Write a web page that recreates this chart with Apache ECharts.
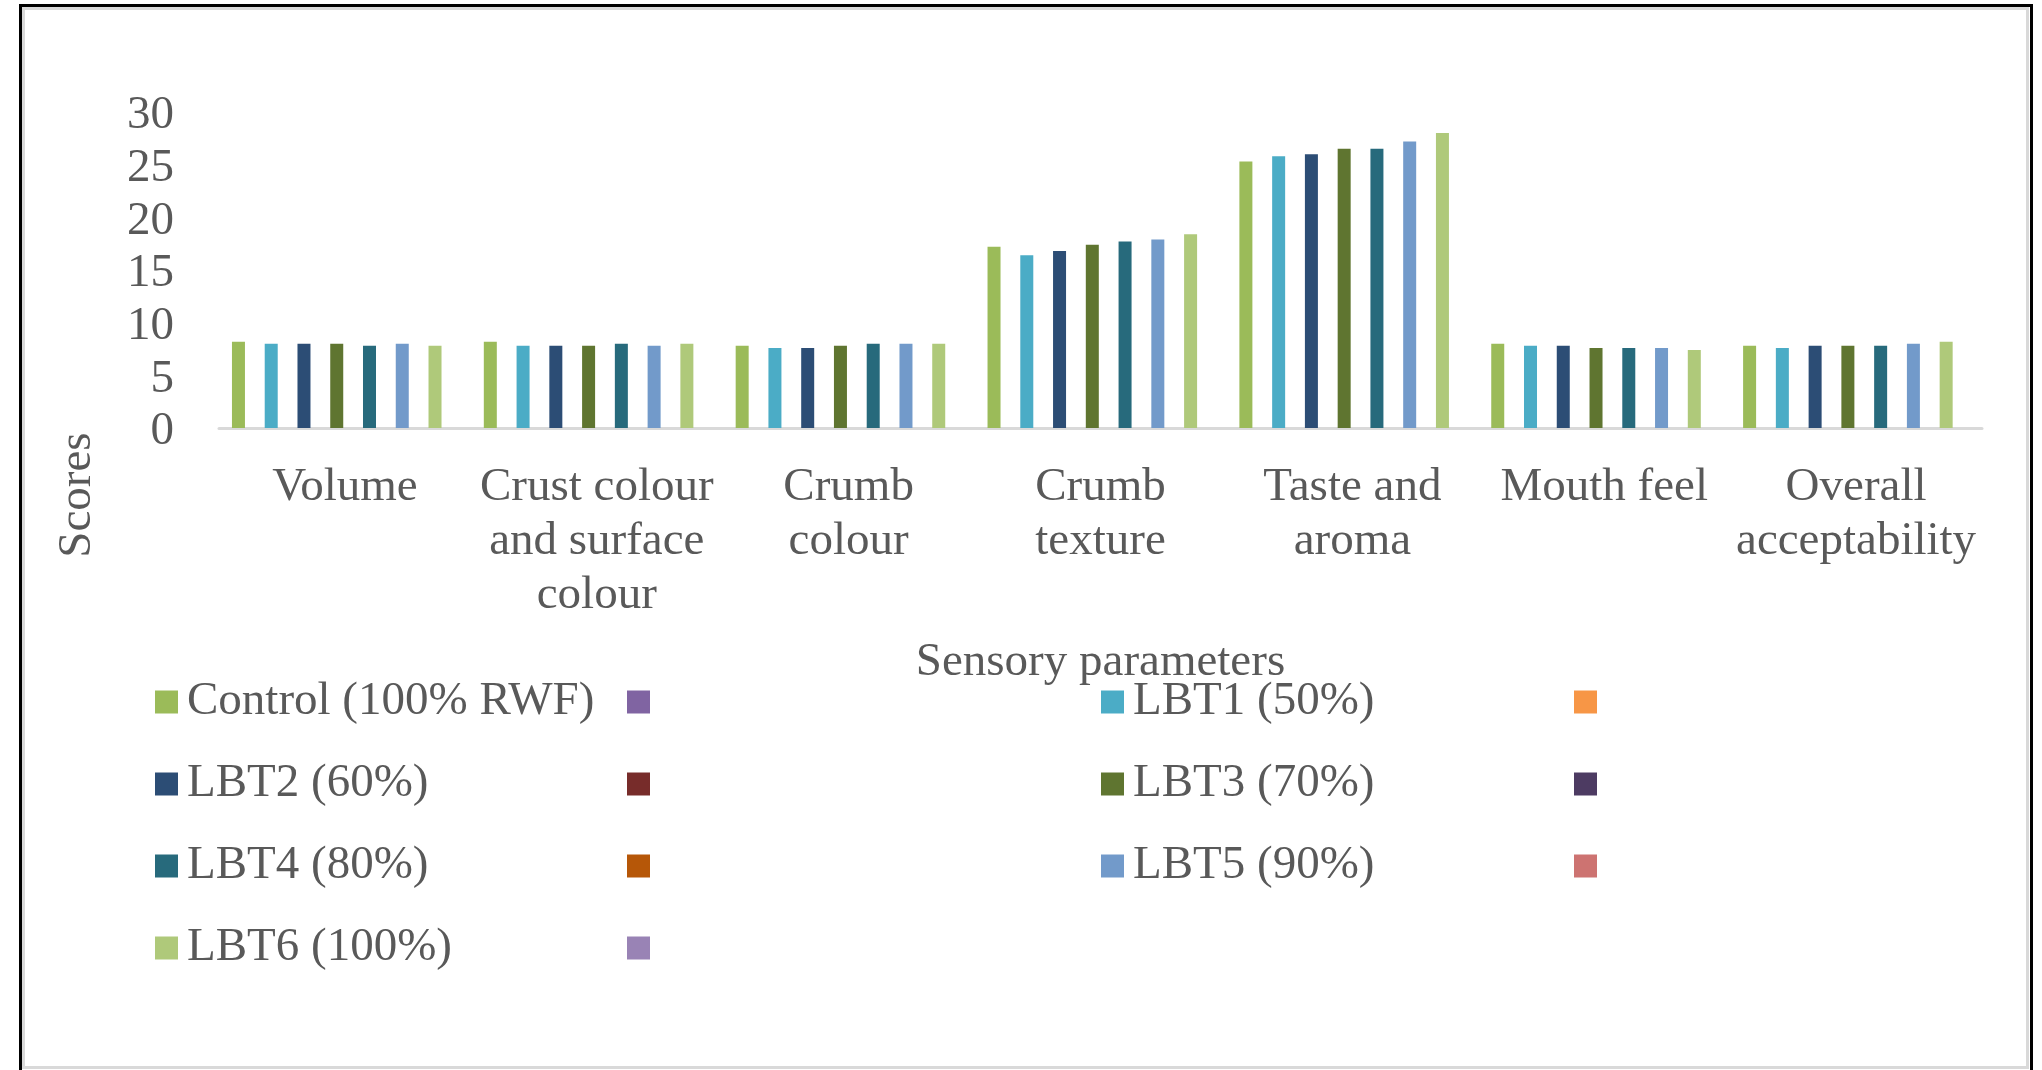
<!DOCTYPE html>
<html>
<head>
<meta charset="utf-8">
<title>Sensory scores</title>
<script src="https://cdn.jsdelivr.net/npm/echarts@6/dist/echarts.min.js"></script>
<style>
  html, body { margin: 0; padding: 0; background: #fff; }
  #chart { width: 2042px; height: 1070px; }
</style>
</head>
<body>
<div id="chart"></div>
<script>
// categories on the x axis (line breaks as in the figure)
const categories = ['Volume', 'Crust colour\nand surface\ncolour', 'Crumb\ncolour', 'Crumb\ntexture',
    'Taste and\naroma', 'Mouth feel', 'Overall\nacceptability'];

// scores per treatment
const control = [8.2, 8.2, 7.8, 17.2, 25.3, 8.0, 7.8];
const lbt1 = [8.0, 7.8, 7.6, 16.4, 25.8, 7.8, 7.6];
const lbt2 = [8.0, 7.8, 7.6, 16.8, 26.0, 7.8, 7.8];
const lbt3 = [8.0, 7.8, 7.8, 17.4, 26.5, 7.6, 7.8];
const lbt4 = [7.8, 8.0, 8.0, 17.7, 26.5, 7.6, 7.8];
const lbt5 = [8.0, 7.8, 8.0, 17.9, 27.2, 7.6, 8.0];
const lbt6 = [7.8, 8.0, 8.0, 18.4, 28.0, 7.4, 8.2];

// y axis ticks
const yMin = 0;
const yMax = 30;
const yStep = 5;

// series in worksheet order; the empty ones ("_") only show a legend swatch
const seriesNames = ['Control (100% RWF)', '_b1', 'LBT1 (50%)', '_b2', 'LBT2 (60%)', '_b3', 'LBT3 (70%)',
    '_b4', 'LBT4 (80%)', '_b5', 'LBT5 (90%)', '_b6', 'LBT6 (100%)', '_b7'];
const seriesValues = [control, [], lbt1, [], lbt2, [], lbt3, [], lbt4, [], lbt5, [], lbt6, []];
const seriesColors = ['#9BBB59', '#8064A2', '#4BACC6', '#F79646', '#2C4D75', '#772C2A', '#5F7530',
    '#4D3B62', '#276A7C', '#B65708', '#729ACA', '#CD7371', '#AFC97A', '#9983B5'];

const FONT = '"Liberation Serif", "Times New Roman", serif';
const TEXT_COLOR = '#595959';

const chart = echarts.init(document.getElementById('chart'));

const series = seriesNames.map((name, i) => ({
    name: name,
    type: 'bar',
    data: seriesValues[i],
    barWidth: 13,
    barGap: '26%',
    itemStyle: { color: seriesColors[i] }
}));

// one legend per column so the columns line up like the original
function legendColumn(names, left, blank) {
    return {
        orient: 'vertical',
        left: left,
        top: blank ? 685.5 : 673,
        data: names,
        icon: 'rect',
        itemWidth: 23,
        itemHeight: 23,
        itemGap: blank ? 59 : 34,
        selectedMode: false,
        formatter: name => name.startsWith('_') ? '' : name,
        textStyle: {
            fontFamily: FONT,
            fontSize: 47,
            lineHeight: 48,
            color: TEXT_COLOR,
            padding: [0, 0, 0, 4]
        }
    };
}

const option = {
    backgroundColor: '#fff',
    animation: false,
    grid: {
        left: 219,
        right: 60,
        top: 112,
        bottom: 642
    },
    legend: [
        legendColumn(['Control (100% RWF)', 'LBT2 (60%)', 'LBT4 (80%)', 'LBT6 (100%)'], 150, false),
        legendColumn(['_b1', '_b3', '_b5', '_b7'], 622, true),
        legendColumn(['LBT1 (50%)', 'LBT3 (70%)', 'LBT5 (90%)'], 1096, false),
        legendColumn(['_b2', '_b4', '_b6'], 1569, true)
    ],
    xAxis: {
        type: 'category',
        data: categories,
        name: 'Sensory parameters',
        nameLocation: 'middle',
        nameGap: 211,
        nameTextStyle: {
            fontFamily: FONT,
            fontSize: 47,
            lineHeight: 48,
            color: TEXT_COLOR
        },
        axisLine: { lineStyle: { color: '#D9D9D9', width: 3 } },
        axisTick: { show: false },
        axisLabel: {
            interval: 0,
            margin: 33,
            fontFamily: FONT,
            fontSize: 47,
            lineHeight: 54,
            color: TEXT_COLOR
        }
    },
    yAxis: {
        type: 'value',
        min: yMin,
        max: yMax,
        interval: yStep,
        splitLine: { show: false },
        axisLine: { show: false },
        axisTick: { show: false },
        axisLabel: {
            margin: 45,
            formatter: '{v|{value}}',
            rich: {
                v: {
                    fontFamily: FONT,
                    fontSize: 47,
                    color: TEXT_COLOR,
                    padding: [8, 0, 0, 0]
                }
            }
        }
    },
    graphic: [
        {
            type: 'text',
            x: 78,
            y: 495,
            rotation: Math.PI / 2,
            style: {
                text: 'Scores',
                fontFamily: FONT,
                fontSize: 47,
                fill: TEXT_COLOR,
                align: 'center',
                verticalAlign: 'middle'
            }
        },
        {
            type: 'rect',
            shape: { x: 23.5, y: 8.5, width: 2004, height: 1059 },
            style: { fill: null, stroke: '#D9D9D9', lineWidth: 3 }
        },
        {
            type: 'rect',
            shape: { x: 20.5, y: 5.5, width: 2011, height: 1100 },
            style: { fill: null, stroke: '#000', lineWidth: 3 }
        }
    ],
    series: series
};

chart.setOption(option);
</script>
</body>
</html>
